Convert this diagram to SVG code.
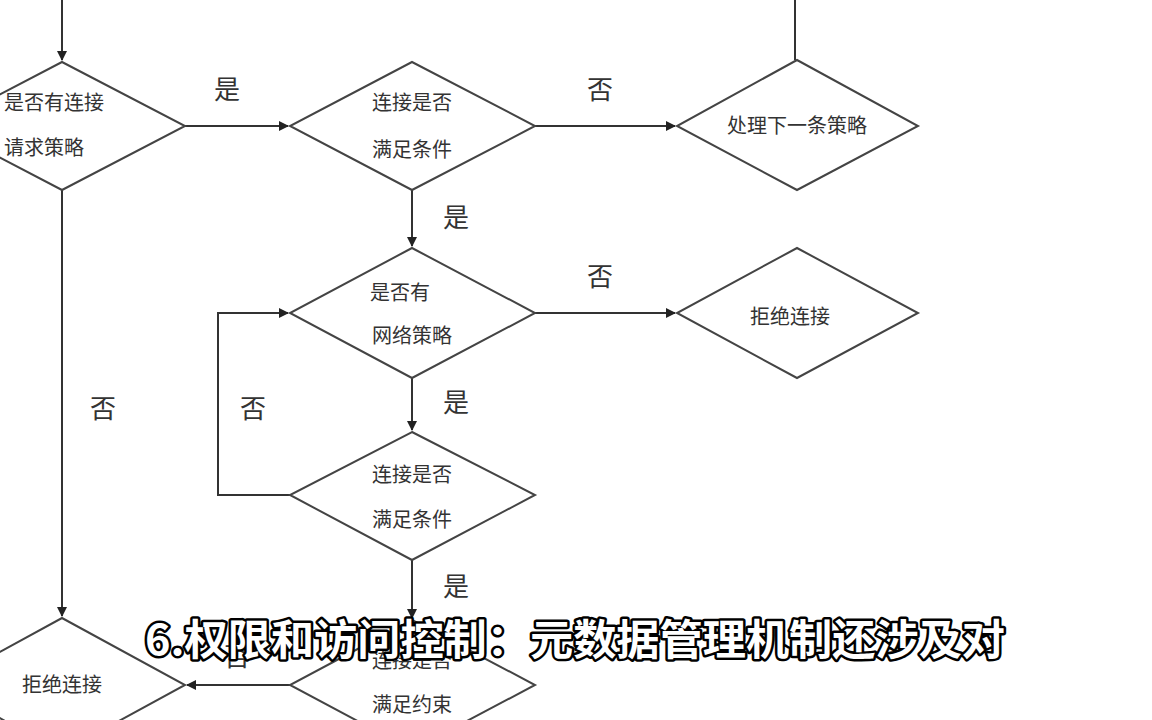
<svg xmlns="http://www.w3.org/2000/svg" width="1152" height="720" viewBox="0 0 1152 720">
<style>
.d{fill:#fff;stroke:#444;stroke-width:2}
.t{font-family:"Noto Sans CJK SC",sans-serif;font-size:20px;fill:#333}
.c{stroke:#333;stroke-width:2;fill:none}
.l{font-family:"Noto Sans CJK SC",sans-serif;font-size:26px;fill:#333}
.s{font-family:"Noto Sans CJK SC",sans-serif;font-size:42px;font-weight:bold;fill:#fff;stroke:#000;stroke-width:5;paint-order:stroke;stroke-linejoin:round}
</style>
<defs><marker id="a" markerWidth="10" markerHeight="10" refX="9" refY="5" orient="auto" markerUnits="userSpaceOnUse"><path d="M0,0L10,5L0,10z" fill="#222"/></marker></defs>
<rect width="1152" height="720" fill="#fff"/>
<g id="connectors">
<path class="c" d="M62,0V60" marker-end="url(#a)"/>
<path class="c" d="M795,0V60"/>
<path class="c" d="M185,126H288" marker-end="url(#a)"/>
<path class="c" d="M535,126H675" marker-end="url(#a)"/>
<path class="c" d="M412,190V246" marker-end="url(#a)"/>
<path class="c" d="M535,313H675" marker-end="url(#a)"/>
<path class="c" d="M412,378V430" marker-end="url(#a)"/>
<path class="c" d="M290,495H218V313H288" marker-end="url(#a)"/>
<path class="c" d="M412,560V618" marker-end="url(#a)"/>
<path class="c" d="M290,685H187" marker-end="url(#a)"/>
<path class="c" d="M62,190V616" marker-end="url(#a)"/>
<text class="l" x="214" y="99">是</text>
<text class="l" x="587" y="99">否</text>
<text class="l" x="443" y="227">是</text>
<text class="l" x="587" y="286">否</text>
<text class="l" x="443" y="412">是</text>
<text class="l" x="240" y="418">否</text>
<text class="l" x="90" y="418">否</text>
<text class="l" x="443" y="596">是</text>
<text class="l" x="224" y="666">否</text>
</g>
<g id="n1"><path class="d" d="M62,62L185,126L62,190L-61,126z"/><text class="t" x="4" y="110">是否有连接</text><text class="t" x="4" y="155">请求策略</text></g>
<g id="n2"><path class="d" d="M412,62L535,126L412,190L290,126z"/><text class="t" x="412" y="110" text-anchor="middle">连接是否</text><text class="t" x="412" y="157" text-anchor="middle">满足条件</text></g>
<g id="n3"><path class="d" d="M797,60L918,126L797,190L677,126z"/><text class="t" x="797" y="133" text-anchor="middle">处理下一条策略</text></g>
<g id="n4"><path class="d" d="M412,248L535,313L412,378L290,313z"/><text class="t" x="400" y="300" text-anchor="middle">是否有</text><text class="t" x="412" y="343" text-anchor="middle">网络策略</text></g>
<g id="n5"><path class="d" d="M797,248L918,313L797,378L677,313z"/><text class="t" x="790" y="324" text-anchor="middle">拒绝连接</text></g>
<g id="n6"><path class="d" d="M412,432L535,495L412,560L290,495z"/><text class="t" x="412" y="482" text-anchor="middle">连接是否</text><text class="t" x="412" y="527" text-anchor="middle">满足条件</text></g>
<g id="n7"><path class="d" d="M412,620L535,685L412,750L290,685z"/><text class="t" x="412" y="668" text-anchor="middle">连接是否</text><text class="t" x="412" y="712" text-anchor="middle">满足约束</text></g>
<g id="n8"><path class="d" d="M62,618L185,685L62,752L-61,685z"/><text class="t" x="62" y="692" text-anchor="middle">拒绝连接</text></g>
<text class="s" x="575" y="655" text-anchor="middle" textLength="860" lengthAdjust="spacingAndGlyphs">6.权限和访问控制：元数据管理机制还涉及对</text>
</svg>
